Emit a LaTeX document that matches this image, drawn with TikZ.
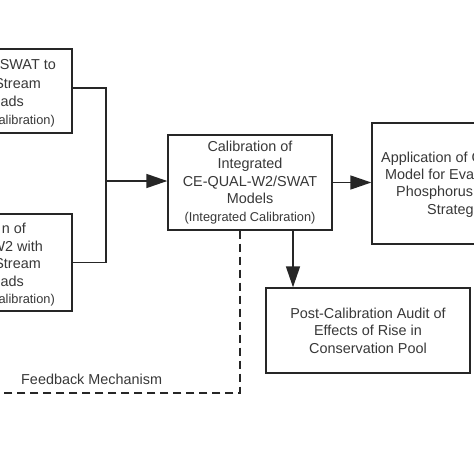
\documentclass[tikz,border=0pt]{standalone}
\usepackage{fontspec}
\setmainfont{Liberation Sans}
\usepackage{xcolor}
\usetikzlibrary{positioning,arrows.meta}
\tikzset{>={Triangle[length=21pt,width=14pt]}}
\definecolor{inkline}{HTML}{262626}
\definecolor{inktext}{HTML}{383838}
\newcommand{\bigtxt}{\fontsize{14.4}{17.6}\selectfont}
\newcommand{\smalltxt}{\fontsize{12.8}{17.6}\selectfont}

\begin{document}
\begin{tikzpicture}[x=1pt,y=-1pt,
    box/.style={draw=inkline,line width=1.4pt,rectangle,inner sep=0pt,text=inktext,align=center,font=\bigtxt},
    frag/.style={inner sep=0pt,text=inktext,text height=10.3pt,text depth=0pt,font=\bigtxt},
    conn/.style={draw=inkline,line width=1.6pt}]
    \useasboundingbox (0,0) rectangle (474,474);
    \clip (0,0) rectangle (474,474);
    \fill [white] (0,0) rectangle (474,474);

    \node [box,minimum width=172pt,minimum height=84pt] (swat) at (-14,91) {};
    \node [box,minimum width=172pt,minimum height=97pt] (wtwo) at (-14,262.5) {};
    \node [box,minimum width=164pt,minimum height=95pt] (calib) at (250,182.5) {Calibration of\\Integrated\\CE-QUAL-W2/SWAT\\Models\\{\smalltxt (Integrated Calibration)}};
    \node [box,minimum width=200pt,minimum height=121pt] (appl) at (472,183.5) {};
    \node [box,minimum width=204pt,minimum height=85pt] (audit) at (368,330.5) {Post-Calibration Audit of\\Effects of Rise in\\Conservation Pool};

    % text of the boxes cut by the frame
    \node [frag,anchor=east] (swat1) at (56,64) {SWAT to};
    \node [frag,anchor=east] (swat2) at (41,83) {Stream};
    \node [frag,anchor=east] (swat3) at (24,101) {ads};
    \node [frag,anchor=east,font=\smalltxt] (swat4) at (55,119) {alibration)};
    \node [frag,anchor=east] (wtwo1) at (26,228) {n of};
    \node [frag,anchor=east] (wtwo2) at (43,246) {W2 with};
    \node [frag,anchor=east] (wtwo3) at (41,263) {Stream};
    \node [frag,anchor=east] (wtwo4) at (24,281) {ads};
    \node [frag,anchor=east,font=\smalltxt] (wtwo5) at (55,298) {alibration)};
    \node [frag,anchor=west] (appl1) at (381,157) {Application of C};
    \node [frag,anchor=west] (appl2) at (385,174) {Model for Eva};
    \node [frag,anchor=west] (appl3) at (396,191) {Phosphorus};
    \node [frag,anchor=west] (appl4) at (427,209) {Strateg};
    \node [frag,anchor=west] (fblabel) at (21,379) {Feedback Mechanism};

    \coordinate (join) at (106,181);
    \coordinate (fbend) at (-5,393);
    \draw [conn] ([yshift=3pt]swat.east) -| (join) |- (wtwo.east);
    \draw [conn,->] (join) -- (join -| calib.west);
    \draw [conn,->] (calib.east) -- (calib.east -| appl.west);
    \draw [conn,->] ([xshift=43pt]calib.south) -- ([xshift=43pt]calib.south |- audit.north);
    \draw [conn,dash pattern=on 8pt off 5pt] ([xshift=-10pt]calib.south) |- (fbend);
\end{tikzpicture}
\end{document}
